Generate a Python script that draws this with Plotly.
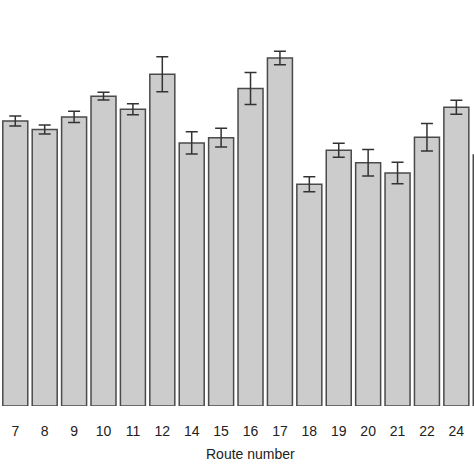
import plotly.graph_objects as go

# route numbers (the last one is cut off at the right edge of the picture)
routes = ["7", "8", "9", "10", "11", "12", "14", "15", "16", "17",
          "18", "19", "20", "21", "22", "24", "25"]
means = [70.2, 68.1, 71.2, 76.3, 73.1, 81.7, 64.8, 66.1, 78.2, 85.7,
         54.6, 63.0, 59.9, 57.4, 66.2, 73.6, 61.8]
errors = [1.23, 1.1, 1.4, 0.95, 1.36, 4.3, 2.76, 2.3, 3.94, 1.65,
          1.85, 1.73, 3.28, 2.64, 3.4, 1.73, 1.5]

fig = go.Figure()
fig.add_trace(go.Bar(
    x=routes, y=means,
    marker=dict(color="#cccccc", line=dict(color="#4a4a4a", width=1.5)),
    error_y=dict(type="data", array=errors, color="#333333", thickness=1.5, width=6),
))

fig.update_layout(
    width=474, height=474,
    margin=dict(l=0, r=0, t=0, b=68),
    paper_bgcolor="white", plot_bgcolor="white",
    bargap=0.15,
    showlegend=False,
    font=dict(family="Liberation Sans, Arial, sans-serif", size=14, color="#222222"),
    xaxis=dict(range=[-0.52, 15.6], showgrid=False, showline=False, zeroline=False,
               ticks="outside", ticklen=12, tickcolor="white", tickfont=dict(size=14)),
    yaxis=dict(range=[0, 100], visible=False),
)

fig.add_annotation(text="Route number", xref="paper", yref="paper",
                   x=250 / 474, y=-(454 - 405.7) / 405.7,
                   showarrow=False, font=dict(size=14), xanchor="center", yanchor="middle")

# drop the browser's default body margin so the figure sits at the page corner
fig.write_html("out.html", config={"displayModeBar": False},
               post_script="document.body.style.margin='0';")
